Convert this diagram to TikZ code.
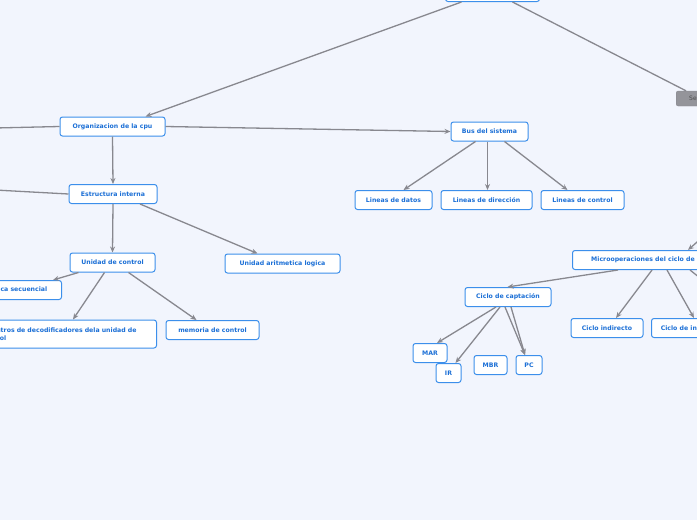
\documentclass[tikz,border=0pt]{standalone}
\usepackage{fontspec}
\setmainfont{DejaVu Sans}
\usetikzlibrary{arrows.meta}
\definecolor{bg}{HTML}{F2F5FD}
\definecolor{bd}{HTML}{3C8FEB}
\definecolor{tx}{HTML}{1B6FD6}
\definecolor{ln}{HTML}{88888F}
\tikzset{
  box/.style={draw=bd,line width=1pt,fill=white,rounded corners=2.5pt,text=tx,
    font=\fontsize{6.2}{8}\selectfont\bfseries,inner sep=0pt,minimum height=19pt},
  gbox/.style={draw=ln,fill=ln!90,rounded corners=2pt,text=black!70,
    font=\fontsize{6}{7}\selectfont,inner sep=0pt,minimum height=15pt},
  con/.style={draw=ln,line width=1.3pt,-{Stealth[length=6pt,width=5pt]}},
  pl/.style={draw=ln,line width=1.3pt}
}
\begin{document}
\begin{tikzpicture}[x=1pt,y=-1pt]
\fill[bg] (0,0) rectangle (697,520);
\useasboundingbox (0,0) rectangle (697,520);
\clip (0,0) rectangle (697,520);
% nodes
\node[box,minimum width=94pt,anchor=south west] (root) at (445,2) {};
\node[box,minimum width=105pt] (org) at (112.5,126.5) {Organizacion de la cpu};
\node[box,minimum width=77pt] (bus) at (489.5,131.5) {Bus del sistema};
\node[box,minimum width=88pt] (est) at (113,194) {Estructura interna};
\node[box,minimum width=77pt] (ld) at (393.5,200) {Lineas de datos};
\node[box,minimum width=91pt] (ldir) at (486.5,200) {Lineas de dirección};
\node[box,minimum width=83pt] (lc) at (582.5,200) {Lineas de control};
\node[box,minimum width=85pt] (uc) at (112.5,262.5) {Unidad de control};
\node[box,minimum width=115pt] (alu) at (282.5,263.5) {Unidad aritmetica logica};
\node[box,minimum width=90pt,anchor=east] (seq) at (62,290) {Lógica secuencial};
\node[box,minimum width=178pt,minimum height=28pt,anchor=east,align=left,text width=172pt] (dec) at (157,334) {Registros de decodificadores dela unidad de\\control};
\node[box,minimum width=93pt] (mem) at (212.5,330) {memoria de control};
\node[gbox,minimum width=60pt,anchor=west,align=left] (sed) at (676,98.5) {\hspace*{3pt}Se divide en};
\node[box,minimum width=180pt,anchor=west,align=left] (mic) at (572,260) {\hspace*{2pt}Microoperaciones del ciclo de instrucción};
\node[box,minimum width=86pt] (cap) at (508,297) {Ciclo de captación};
\node[box,minimum width=72pt] (ind) at (607,328) {Ciclo indirecto};
\node[box,minimum width=80pt,anchor=west,align=left] (cin) at (651,328) {\hspace*{7pt}Ciclo de instrucción};
\node[box,minimum width=34pt] (mar) at (430,353) {MAR};
\node[box,minimum width=25pt] (ir) at (448.5,373) {IR};
\node[box,minimum width=33pt] (mbr) at (490.5,365) {MBR};
\node[box,minimum width=26pt] (pc) at (529,365) {PC};
\coordinate (offL1) at (-5,128);
\coordinate (offL2) at (-5,190);
\coordinate (inR) at (705,235);
\coordinate (outR) at (705,282);
% connectors
\draw[con] ([xshift=-31pt]root.south) -- ([xshift=33pt]org.north);
\draw[pl] ([xshift=20pt]root.south) -- ([xshift=10pt]sed.north west);
\draw[pl] (org.west) -- (offL1);
\draw[con] (org.east) -- (bus.west);
\draw[con] (org.south) -- (est.north);
\draw[pl] (est.west) -- (offL2);
\draw[con] (est.south) -- (uc.north);
\draw[con] ([xshift=27pt]est.south) -- ([xshift=-25pt]alu.north);
\draw[con] ([xshift=-14pt]bus.south) -- ([xshift=10pt]ld.north);
\draw[con] ([xshift=-2pt]bus.south) -- ([xshift=1pt]ldir.north);
\draw[con] ([xshift=15pt]bus.south) -- ([xshift=-15pt]lc.north);
\draw[con] ([xshift=-34pt]uc.south) -- ([xshift=-9pt]seq.north east);
\draw[con] ([xshift=-8pt]uc.south) -- ([xshift=-84pt]dec.north east);
\draw[con] ([xshift=16pt]uc.south) -- ([xshift=-16pt]mem.north);
\draw[con] (inR) -- ([xshift=116pt]mic.north west);
\draw[pl] ([xshift=118pt]mic.south west) -- (outR);
\draw[con] ([xshift=46pt]mic.south west) -- ([xshift=43pt]cap.north west);
\draw[con] ([xshift=80pt]mic.south west) -- ([xshift=9pt]ind.north);
\draw[con] ([xshift=95pt]mic.south west) -- ([xshift=43pt]cin.north west);
\draw[con] ([xshift=-12pt]cap.south) -- ([xshift=7pt]mar.north);
\draw[con] ([xshift=-8pt]cap.south) -- ([xshift=7pt]ir.north);
\draw[con] ([xshift=-3pt]cap.south) -- ([xshift=-4pt]pc.north);
\draw[con] ([xshift=3pt]cap.south) -- ([xshift=-4pt]pc.north);
\end{tikzpicture}
\end{document}
